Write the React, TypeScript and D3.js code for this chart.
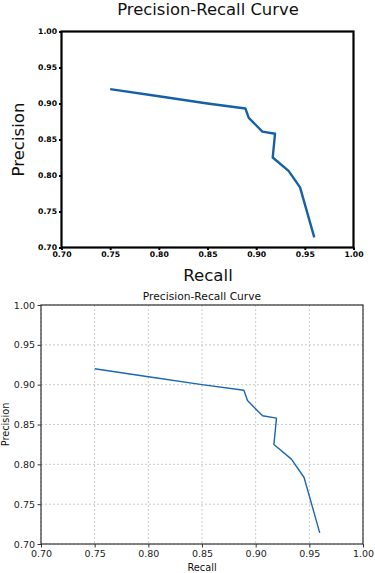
import React, { useEffect, useRef } from 'react';
import * as d3 from 'd3';

// values
const recall = [0.75, 0.8, 0.85, 0.889, 0.8924, 0.9064, 0.9194, 0.917, 0.9333, 0.9451, 0.9597];
const precision = [0.92, 0.91, 0.9, 0.893, 0.88, 0.861, 0.858, 0.825, 0.8065, 0.7835, 0.714];
const tickValues = [0.7, 0.75, 0.8, 0.85, 0.9, 0.95, 1.0];
const titleText = 'Precision-Recall Curve';
const xLabel = 'Recall';
const yLabel = 'Precision';

const FONT = '"DejaVu Sans", sans-serif';

const App = () => {
    const svgRef = useRef(null);

    useEffect(() => {
        const svg = d3.select(svgRef.current);
        svg.selectAll('*').remove();

        const points = recall.map((r, i) => ({ r, p: precision[i] }));

        const drawPanel = (opts) => {
            const { left, right, top, bottom } = opts;
            const x = d3.scaleLinear().domain([0.7, 1.0]).range([left, right]);
            const y = d3.scaleLinear().domain([0.7, 1.0]).range([bottom, top]);
            const g = svg.append('g');

            // grid
            if (opts.grid) {
                g.append('g')
                    .selectAll('line.gx')
                    .data(tickValues)
                    .join('line')
                    .attr('x1', d => x(d))
                    .attr('x2', d => x(d))
                    .attr('y1', top)
                    .attr('y2', bottom)
                    .attr('stroke', '#c4c4c4')
                    .attr('stroke-width', 0.9)
                    .attr('stroke-dasharray', '2,2');
                g.append('g')
                    .selectAll('line.gy')
                    .data(tickValues)
                    .join('line')
                    .attr('x1', left)
                    .attr('x2', right)
                    .attr('y1', d => y(d))
                    .attr('y2', d => y(d))
                    .attr('stroke', '#c4c4c4')
                    .attr('stroke-width', 0.9)
                    .attr('stroke-dasharray', '2,2');
            }

            // curve
            const line = d3.line()
                .x(d => x(d.r))
                .y(d => y(d.p));
            g.append('path')
                .datum(points)
                .attr('fill', 'none')
                .attr('stroke', opts.lineColor)
                .attr('stroke-width', opts.lineWidth)
                .attr('stroke-linejoin', 'round')
                .attr('d', line);

            // axes
            const xAxis = g.append('g')
                .attr('transform', `translate(0,${bottom})`)
                .call(d3.axisBottom(x).tickValues(tickValues).tickFormat(d3.format('.2f'))
                    .tickSize(opts.tickSize).tickPadding(opts.tickPad));
            const yAxis = g.append('g')
                .attr('transform', `translate(${left},0)`)
                .call(d3.axisLeft(y).tickValues(tickValues).tickFormat(d3.format('.2f'))
                    .tickSize(opts.tickSize).tickPadding(opts.tickPad));
            [xAxis, yAxis].forEach(a => {
                a.select('.domain').remove();
                a.selectAll('line').attr('stroke', opts.frameColor).attr('stroke-width', opts.tickWidth);
                a.selectAll('text')
                    .attr('fill', opts.textColor)
                    .style('font-family', FONT)
                    .style('font-size', `${opts.tickFont}px`)
                    .style('font-weight', opts.tickWeight);
            });

            // frame
            g.append('rect')
                .attr('x', left)
                .attr('y', top)
                .attr('width', right - left)
                .attr('height', bottom - top)
                .attr('fill', 'none')
                .attr('stroke', opts.frameColor)
                .attr('stroke-width', opts.frameWidth);

            // title and labels
            g.append('text')
                .attr('x', opts.titleX)
                .attr('y', opts.titleY)
                .attr('text-anchor', 'middle')
                .attr('fill', '#111')
                .style('font-family', FONT)
                .style('font-size', `${opts.titleFont}px`)
                .text(titleText);
            g.append('text')
                .attr('x', opts.titleX)
                .attr('y', opts.xLabelY)
                .attr('text-anchor', 'middle')
                .attr('fill', '#111')
                .style('font-family', FONT)
                .style('font-size', `${opts.labelFont}px`)
                .text(xLabel);
            g.append('text')
                .attr('transform', `translate(${opts.yLabelX},${(top + bottom) / 2}) rotate(-90)`)
                .attr('text-anchor', 'middle')
                .attr('fill', '#111')
                .style('font-family', FONT)
                .style('font-size', `${opts.labelFont}px`)
                .text(yLabel);
        };

        // upper panel: bold ticks, heavy frame, no grid
        drawPanel({
            left: 61.5, right: 353.5, top: 31.5, bottom: 247.5,
            grid: false,
            lineColor: '#1560a6', lineWidth: 2.4,
            frameColor: '#000', frameWidth: 2.2,
            tickSize: 2.5, tickPad: 2, tickWidth: 2, tickFont: 7.7, tickWeight: 'bold',
            textColor: '#000',
            titleX: 208, titleY: 15, titleFont: 16.4,
            xLabelY: 281, yLabelX: 24, labelFont: 16.6,
        });

        // lower panel: matplotlib style with dashed grid
        drawPanel({
            left: 41, right: 363, top: 305, bottom: 544,
            grid: true,
            lineColor: '#1a67b3', lineWidth: 1.4,
            frameColor: '#333', frameWidth: 1.2,
            tickSize: 3.5, tickPad: 2.5, tickWidth: 1, tickFont: 9.5, tickWeight: 'normal',
            textColor: '#222',
            titleX: 202, titleY: 300, titleFont: 10.7,
            xLabelY: 571, yLabelX: 9, labelFont: 9.8,
        });
    }, []);

    return (
        <svg
            ref={svgRef}
            width={375}
            height={573}
            style={{ position: 'absolute', left: 0, top: 0, background: '#fff' }}
        />
    );
};

export default App;
